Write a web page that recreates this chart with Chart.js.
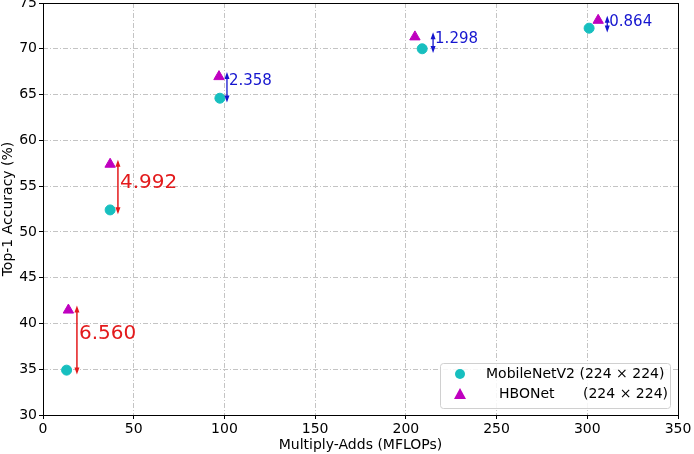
<!DOCTYPE html>
<html>
<head>
<meta charset="utf-8">
<script src="https://cdn.jsdelivr.net/npm/chart.js@4.4.1/dist/chart.umd.min.js"></script>
<style>
  html, body { margin: 0; padding: 0; background: #fff; overflow: hidden; }
  #wrap { width: 694px; height: 458px; margin-top: -4px; }
</style>
</head>
<body>
<div id="wrap"><canvas id="chart"></canvas></div>
<script>
// values
const mobileX = [13, 37, 97.5, 209, 301];
const mobileY = [34.9, 52.4, 64.6, 70.0, 72.25];
const hboX = [14, 37, 97, 205, 306];
const hboY = [41.46, 57.39, 66.96, 71.30, 73.11];
const gapLabels = ['6.560', '4.992', '2.358', '1.298', '0.864'];
const arrowX = [18.7, 41.3, 101.4, 215, 311];
const xTicks = [0, 50, 100, 150, 200, 250, 300, 350];
const yTicks = [30, 35, 40, 45, 50, 55, 60, 65, 70, 75];

const cyan = '#17bfbf';
const magenta = '#bf00bf';
const red = '#e31a1c';
const blue = '#1515cf';
const font = "'DejaVu Sans', sans-serif";

const toPoints = (xs, ys) => xs.map((x, i) => ({x: x, y: ys[i]}));

// double headed arrows + gap numbers
const gapPlugin = {
  id: 'gaps',
  afterDatasetsDraw(chart) {
    const ctx = chart.ctx;
    const xs = chart.scales.x, ys = chart.scales.y;
    ctx.save();
    gapLabels.forEach((txt, i) => {
      const big = i < 2;
      const col = big ? red : blue;
      const px = xs.getPixelForValue(arrowX[i]);
      const lo = Math.min(mobileY[i], hboY[i]);
      const hi = Math.max(mobileY[i], hboY[i]);
      const y1 = ys.getPixelForValue(hi + 0.5);
      const y2 = ys.getPixelForValue(lo - 0.47);
      ctx.strokeStyle = col;
      ctx.fillStyle = col;
      ctx.lineWidth = big ? 1.5 : 1.3;
      ctx.beginPath();
      ctx.moveTo(px, y1 + 3);
      ctx.lineTo(px, y2 - 3);
      ctx.stroke();
      // heads
      ctx.beginPath();
      ctx.moveTo(px, y1); ctx.lineTo(px - 2.5, y1 + 7); ctx.lineTo(px + 2.5, y1 + 7); ctx.closePath();
      ctx.fill();
      ctx.beginPath();
      ctx.moveTo(px, y2); ctx.lineTo(px - 2.5, y2 - 7); ctx.lineTo(px + 2.5, y2 - 7); ctx.closePath();
      ctx.fill();
      // label
      ctx.font = (big ? '20px ' : '15px ') + font;
      ctx.textBaseline = 'middle';
      ctx.textAlign = 'left';
      const ly = big ? ys.getPixelForValue(lo + (hi - lo) * 0.6) : ys.getPixelForValue(hi - (hi - lo) * 0.22);
      ctx.fillText(txt, px + 2, ly);
    });
    ctx.restore();
  },
  afterDraw(chart) {
    const ctx = chart.ctx;
    const a = chart.chartArea;
    ctx.save();
    // frame
    ctx.strokeStyle = '#000';
    ctx.lineWidth = 1;
    ctx.strokeRect(Math.round(a.left) + 0.5, Math.round(a.top) + 0.5, Math.round(a.right - a.left), Math.round(a.bottom - a.top));
    // legend, lower right corner of the axes
    const lx = Math.round(a.right) - 238, ly = Math.round(a.bottom) - 52, lw = 230, lh = 45;
    ctx.fillStyle = 'rgba(255,255,255,0.85)';
    ctx.strokeStyle = '#d0d0d0';
    ctx.beginPath();
    ctx.roundRect(lx + 0.5, ly + 0.5, lw, lh, 3);
    ctx.fill();
    ctx.stroke();
    ctx.fillStyle = cyan;
    ctx.beginPath();
    ctx.arc(lx + 20, ly + 11, 5, 0, Math.PI * 2);
    ctx.fill();
    ctx.fillStyle = magenta;
    ctx.beginPath();
    ctx.moveTo(lx + 20, ly + 25); ctx.lineTo(lx + 26, ly + 36); ctx.lineTo(lx + 14, ly + 36); ctx.closePath();
    ctx.fill();
    ctx.fillStyle = '#000';
    ctx.font = '14px ' + font;
    ctx.textBaseline = 'middle';
    ctx.textAlign = 'left';
    ctx.fillText(chart.data.datasets[0].label, lx + 46, ly + 11);
    ctx.fillText(chart.data.datasets[1].label, lx + 59, ly + 31);
    ctx.fillText('(224 \u00d7 224)', lx + 143, ly + 31);
    ctx.restore();
  }
};

const gridOpts = { color: '#c4c4c4', tickLength: 4, tickColor: '#000', tickBorderDash: [] };

new Chart(document.getElementById('chart'), {
  type: 'scatter',
  data: {
    datasets: [
      {
        label: 'MobileNetV2 (224 \u00d7 224)',
        data: toPoints(mobileX, mobileY),
        pointStyle: 'circle',
        pointRadius: 5,
        backgroundColor: cyan,
        borderColor: cyan
      },
      {
        label: 'HBONet',
        data: toPoints(hboX, hboY),
        pointStyle: 'triangle',
        pointRadius: 6,
        backgroundColor: magenta,
        borderColor: magenta
      }
    ]
  },
  options: {
    responsive: true,
    maintainAspectRatio: false,
    animation: false,
    layout: { padding: { top: 0, right: 16, left: 0, bottom: 0 } },
    plugins: { legend: { display: false }, tooltip: { enabled: false } },
    scales: {
      x: {
        type: 'linear',
        min: 0, max: 350,
        afterBuildTicks: s => { s.ticks = xTicks.map(v => ({value: v})); },
        afterFit: s => { s.height = 39; s.paddingLeft = 0; s.paddingRight = 0; },
        grid: gridOpts,
        border: { display: false, dash: [5, 2, 1, 2] },
        ticks: { color: '#000', font: { family: font, size: 14 }, padding: 2, maxRotation: 0 },
        title: { display: true, text: 'Multiply-Adds (MFLOPs)', color: '#000', font: { family: font, size: 14 }, padding: { top: -3, bottom: 0 } }
      },
      y: {
        min: 30, max: 75,
        afterBuildTicks: s => { s.ticks = yTicks.map(v => ({value: v})); },
        afterFit: s => { s.width = 43; s.paddingTop = 0; s.paddingBottom = 0; },
        grid: gridOpts,
        border: { display: false, dash: [5, 2, 1, 2] },
        ticks: { color: '#000', font: { family: font, size: 14 }, padding: 2 },
        title: { display: true, text: 'Top-1 Accuracy (%)', color: '#000', font: { family: font, size: 14 }, padding: { top: 0, bottom: 0 } }
      }
    }
  },
  plugins: [gapPlugin]
});
</script>
</body>
</html>
